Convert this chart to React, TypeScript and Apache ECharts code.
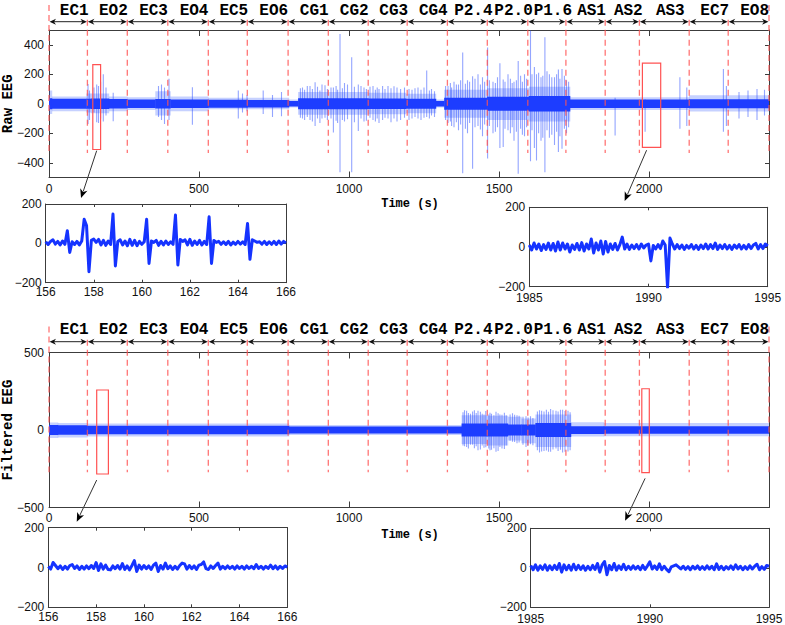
import React, { useEffect, useRef } from 'react';
import * as echarts from 'echarts';

// ---------------- data ----------------
const segBounds = [0, 128, 261, 396, 531, 661, 797, 931, 1064, 1194, 1328, 1461, 1596, 1723, 1854, 1968, 2134, 2264, 2400];
const segLabels = ['EC1', 'EO2', 'EC3', 'EO4', 'EC5', 'EO6', 'CG1', 'CG2', 'CG3', 'CG4', 'P2.4', 'P2.0', 'P1.6', 'AS1', 'AS2', 'AS3', 'EC7', 'EO8'];

const timeTicks = [0, 500, 1000, 1500, 2000];
const rawTicks = [-400, -200, 0, 200, 400];
const filtTicks = [-500, 0, 500];
const insetEarlyTicks = [156, 158, 160, 162, 164, 166];
const insetLateTicks = [1985, 1990, 1995];
const insetYTicks = [-200, 0, 200];

// envelope pieces: [start s, end s, dense core half-width, outer top, outer bottom]
const rawEnvelope = [
  [0, 10, 38, 90, -70],
  [10, 125, 34, 50, -50],
  [125, 140, 34, 70, -60],
  [140, 200, 36, 70, -65],
  [200, 261, 32, 50, -50],
  [261, 355, 29, 44, -42],
  [355, 405, 32, 85, -80],
  [405, 531, 29, 50, -50],
  [531, 661, 27, 40, -38],
  [661, 800, 25, 40, -38],
  [800, 831, 19, 28, -26],
  [831, 1064, 38, 80, -75],
  [1064, 1190, 36, 75, -72],
  [1190, 1290, 34, 68, -65],
  [1290, 1318, 19, 28, -26],
  [1318, 1461, 40, 95, -95],
  [1461, 1600, 48, 105, -110],
  [1600, 1737, 52, 115, -120],
  [1737, 2134, 29, 44, -42],
  [2134, 2400, 31, 58, -52],
];

// isolated excursions: [time s, top, bottom]
const rawSpikes = [
  [130, 134, -137], [135, 90, -110], [150, 110, -60], [159, 130, -125], [165, 120, -130],
  [172, 150, -100], [181, 200, -120], [190, 110, -80], [214, 75, -118],
  [365, 120, -90], [375, 130, -110], [385, 110, -137], [400, 170, -110],
  [478, 112, -142], [631, 90, -100], [645, 70, -60], [660, 60, -50],
  [714, 90, -70], [745, 60, -90], [775, 80, -85],
  [845, 110, -100], [870, 120, -110], [887, 146, -150], [910, 130, -100], [948, 110, -195],
  [970, 473, -464], [985, 140, -120], [1009, 315, -464], [1031, 130, -185], [1050, 110, -120],
  [1080, 120, -110], [1100, 100, -130], [1130, 120, -100], [1160, 110, -120], [1200, 100, -110],
  [1230, 110, -100], [1259, 225, -90], [1275, 100, -80],
  [1330, 120, -130], [1350, 150, -160], [1365, 130, -180], [1379, 347, -471], [1395, 160, -200],
  [1412, 187, -441], [1430, 200, -150], [1445, 180, -220], [1462, 382, -372], [1480, 150, -200],
  [1503, 275, -300], [1514, 165, -293], [1530, 200, -180], [1550, 150, -250], [1564, 290, -475],
  [1585, 200, -220], [1605, 496, -390], [1618, 250, -300], [1625, 200, -385], [1640, 180, -250],
  [1653, 451, -464], [1668, 200, -230], [1685, 180, -280], [1698, 233, -327], [1710, 236, -305],
  [1725, 160, -200],
  [1887, 40, -216], [1987, 30, -190], [2103, 180, -170], [2126, 110, -150],
  [2248, 236, -190], [2258, 120, -150], [2300, 80, -100], [2330, 90, -90], [2360, 100, -110], [2385, 95, -80],
];

// dense smaller excursions of the gaming / puzzle blocks: [time s, top, bottom]
const rawHairs = [
  [838, 105, -95], [852, 95, -110], [861, 120, -90], [878, 100, -120], [895, 115, -100], [903, 90, -130],
  [920, 125, -95], [928, 100, -110], [940, 110, -100], [957, 120, -115], [962, 95, -130], [978, 105, -110],
  [995, 130, -105], [1018, 115, -125], [1040, 120, -100], [1058, 100, -115], [1070, 115, -95], [1088, 95, -120],
  [1094, 110, -100], [1112, 120, -110], [1120, 100, -95], [1140, 105, -125], [1150, 118, -100], [1172, 100, -110],
  [1185, 110, -95], [1210, 95, -100], [1220, 105, -90], [1240, 95, -110], [1250, 110, -95], [1268, 90, -100],
  [1285, 85, -90],
  [1322, 120, -110], [1338, 140, -120], [1342, 110, -150], [1358, 130, -125], [1372, 160, -140], [1388, 135, -170],
  [1402, 150, -130], [1420, 170, -160], [1438, 130, -175], [1452, 150, -140], [1468, 160, -150], [1488, 140, -190],
  [1495, 180, -160], [1520, 150, -170], [1538, 170, -200], [1544, 140, -160], [1558, 160, -190], [1572, 190, -170],
  [1578, 150, -210], [1592, 170, -160], [1610, 200, -180], [1632, 210, -200], [1646, 190, -230], [1660, 220, -180],
  [1676, 180, -210], [1692, 200, -190], [1703, 170, -220], [1718, 190, -170], [1732, 150, -160],
];

const filtEnvelope = [
  [0, 30, 33, 48, -52],
  [30, 128, 31, 45, -48],
  [128, 800, 28, 42, -42],
  [800, 1376, 22, 33, -33],
  [1376, 1460, 42, 95, -90],
  [1460, 1530, 42, 92, -100],
  [1530, 1575, 36, 85, -68],
  [1575, 1622, 36, 75, -85],
  [1622, 1740, 45, 100, -110],
  [1740, 1850, 25, 50, -42],
  [1850, 2400, 24, 45, -40],
];

const filtSpikes = [
  [1380, 115, -100], [1385, 128, -105], [1392, 125, -110], [1398, 110, -120], [1405, 105, -95], [1412, 120, -95],
  [1418, 128, -118], [1424, 110, -105], [1430, 125, -130], [1438, 118, -125], [1444, 105, -100], [1450, 100, -115],
  [1456, 122, -112], [1466, 100, -120], [1470, 112, -130], [1475, 105, -128], [1483, 95, -118], [1490, 118, -140],
  [1497, 108, -135], [1503, 100, -110], [1510, 98, -120], [1518, 112, -122], [1524, 95, -100], [1537, 100, -70],
  [1545, 108, -75], [1552, 98, -78], [1560, 95, -85], [1567, 92, -80], [1580, 85, -95], [1590, 88, -110],
  [1597, 80, -100], [1605, 88, -92], [1613, 78, -98], [1628, 120, -130], [1635, 128, -145], [1642, 125, -138],
  [1650, 120, -135], [1658, 130, -132], [1665, 118, -140], [1672, 135, -140], [1680, 128, -125], [1690, 125, -120],
  [1697, 120, -135], [1705, 130, -128], [1712, 130, -145], [1720, 122, -140], [1730, 125, -138], [1737, 115, -130],
];

// highlighted windows: [t0, t1, top, bottom]
const rawBoxes = [[146, 172, 265, -310], [1978, 2039, 276, -296]];
const filtBoxes = [[159, 198, 258, -284], [1976, 2001, 266, -275]];

// 10-second excerpts, one sample per 0.1 s
const insetStep = 0.1;
const insetEarlyStart = 156;
const insetLateStart = 1985;
const rawEarly = [
  8, -6, 10, 18, -4, 10, -8, 12, -5, 64,
  -46, 8, -6, 10, -8, 12, 122, 90, -144, 15,
  22, 5, 20, -8, 15, -10, 12, -6, 149, -115,
  10, 18, -8, 12, -12, 20, -10, 15, -12, 10,
  -5, 8, 122, -102, 12, 5, 15, -10, 10, -8,
  12, -6, 8, -5, 144, -110, 20, 10, 18, -8,
  20, -10, 12, -6, 15, -8, 10, -6, 135, -102,
  15, 5, 10, -5, 8, -6, 10, -8, 6, -5,
  10, -4, 8, -6, 101, -81, 18, 12, 5, 8,
  -4, 10, -6, 8, -5, 10, -6, 12, -4, 10,
  2,
];
const rawLate = [
  10, -15, 20, -10, 15, -18, 12, -12, 20, -15,
  18, -20, 25, -15, 20, -10, 15, -25, 10, -12,
  18, -15, 22, -20, 15, -10, 40, -30, 20, -15,
  30, -35, 28, -25, 15, -12, 18, -15, 12, 50,
  -10, 15, -12, 10, -8, 12, -10, 15, -5, 10,
  15, -70, 8, -10, 12, -8, 30, 10, -205, 45,
  15, -10, 12, -8, 10, -12, 8, -6, 12, -10,
  8, -12, 10, -8, 15, -10, 12, -8, 20, -12,
  10, -8, 12, -10, 8, -12, 10, -6, 12, -10,
  8, -10, 12, -8, 10, 18, -10, 12, -8, 15,
  5,
];
const filtEarly = [
  5, -8, 25, 10, -6, 8, -10, 6, -8, 10,
  15, -5, 8, -10, 6, -8, 8, -6, 10, -5,
  25, -15, 18, -8, 12, -10, -12, 8, -6, 10,
  -8, 20, -10, 8, -12, 10, 35, -20, 12, -8,
  10, -6, 8, -10, 12, 22, -20, 10, -8, 22,
  -6, 8, -10, 6, -8, 10, 22, 18, -8, 10,
  -6, 8, -10, 12, 15, 28, -6, -10, 8, -5,
  10, 22, -8, 6, -6, 8, -5, 6, -8, 8,
  -5, 6, -8, 8, -5, 6, -6, 15, -5, 6,
  -8, 6, -5, 12, -6, 8, -8, 6, -5, 8,
  2,
];
const filtLate = [
  12, -10, 15, -12, 10, -8, 15, -12, 10, -10,
  12, -8, 22, -22, 15, -10, 12, -12, 18, -10,
  12, -8, 10, -12, 8, -10, 12, -8, 22, -22,
  15, 32, -35, 12, -10, 22, -12, 10, -8, 18,
  -10, 8, -8, 10, -6, 8, -10, 12, -8, 10,
  30, -6, 10, -8, 20, -10, 8, -8, -20, 5,
  10, 15, 5, -6, 8, -8, 6, -10, 8, -6,
  10, -8, 6, -8, 10, -6, 8, -10, 20, -8,
  8, -10, 6, -6, 10, -8, 15, -6, 8, -10,
  6, -8, 10, -6, 8, 18, -10, 6, -8, 12,
  8,
];

// callout arrows: from a point of a main panel to a point of an inset (data units of each)
const connectors = [
  { fromGrid: 0, from: [159, -318], toGrid: 1, to: [157.47, 230] },
  { fromGrid: 0, from: [1992, -315], toGrid: 2, to: [1989.0, 232] },
  { fromGrid: 3, from: [159, -323], toGrid: 4, to: [157.19, 230] },
  { fromGrid: 3, from: [1987, -312], toGrid: 5, to: [1988.96, 238] },
];

// ---------------- style / layout ----------------
const GRIDS = [
  { left: 49, top: 30, width: 720, height: 147.5 },
  { left: 45.7, top: 204, width: 240.3, height: 78.7 },
  { left: 529.3, top: 207.3, width: 238.4, height: 79.4 },
  { left: 49, top: 352.5, width: 720, height: 155 },
  { left: 48.3, top: 527.7, width: 239, height: 79.6 },
  { left: 530.7, top: 528.3, width: 238.3, height: 79 },
];
const AXIS_COLOR = '#3c3c3c';
const SANS = '"Liberation Sans", Arial, Helvetica, sans-serif';
const MONO = '"Liberation Mono", "DejaVu Sans Mono", "Courier New", monospace';
const CORE = '#1d3dff';
const OUTER = 'rgba(50, 90, 255, 0.28)';
const SPIKE = 'rgba(40, 75, 255, 0.5)';
const LINE = '#1533ff';
const RED = '#ff5252';

const fmt = (v: number) => (v < 0 ? '\u2212' + Math.abs(v) : String(v));

function axesFor(g: number, xr: number[], xt: number[], yr: number[], yt: number[], xTick: number, yTick: number, xMargin: number, yMargin: number) {
  const line = { show: true, onZero: false, lineStyle: { color: AXIS_COLOR, width: 1 } };
  const lab = { fontFamily: SANS, fontSize: 12, lineHeight: 11, color: '#111', formatter: fmt };
  const x = [
    {
      type: 'value', gridIndex: g, min: xr[0], max: xr[1], position: 'bottom', axisLine: line,
      axisTick: { show: true, inside: true, length: xTick, customValues: xt, lineStyle: { color: AXIS_COLOR } },
      axisLabel: { show: true, customValues: xt, margin: xMargin, ...lab }, splitLine: { show: false },
    },
    {
      type: 'value', gridIndex: g, min: xr[0], max: xr[1], position: 'top', axisLine: line,
      axisTick: { show: true, inside: true, length: xTick, customValues: xt, lineStyle: { color: AXIS_COLOR } },
      axisLabel: { show: false }, splitLine: { show: false },
    },
  ];
  const y = [
    {
      type: 'value', gridIndex: g, min: yr[0], max: yr[1], position: 'left', axisLine: line,
      axisTick: { show: true, inside: true, length: yTick, customValues: yt, lineStyle: { color: AXIS_COLOR } },
      axisLabel: { show: true, customValues: yt, margin: yMargin, ...lab }, splitLine: { show: false },
    },
    {
      type: 'value', gridIndex: g, min: yr[0], max: yr[1], position: 'right', axisLine: line,
      axisTick: { show: true, inside: true, length: yTick, customValues: yt, lineStyle: { color: AXIS_COLOR } },
      axisLabel: { show: false }, splitLine: { show: false },
    },
  ];
  return { x, y };
}

function envelopeSeries(g: number, data: number[][], kind: 'outer' | 'core') {
  return {
    type: 'custom', xAxisIndex: 2 * g, yAxisIndex: 2 * g, clip: true, silent: true, z: kind === 'outer' ? 2 : 4,
    data, encode: { x: [0, 1], y: [3, 4] },
    renderItem: (_p: any, api: any) => {
      const t0 = api.value(0), t1 = api.value(1);
      const top = kind === 'outer' ? api.value(3) : api.value(2);
      const bot = kind === 'outer' ? api.value(4) : -api.value(2);
      const a = api.coord([t0, top]);
      const b = api.coord([t1, bot]);
      return {
        type: 'rect',
        shape: { x: a[0] - 0.2, y: a[1], width: b[0] - a[0] + 0.4, height: b[1] - a[1] },
        style: { fill: kind === 'outer' ? OUTER : CORE },
      };
    },
  };
}

function spikeSeries(g: number, data: number[][]) {
  return {
    type: 'custom', xAxisIndex: 2 * g, yAxisIndex: 2 * g, clip: true, silent: true, z: 3,
    data, encode: { x: 0, y: [1, 2] },
    renderItem: (_p: any, api: any) => {
      const a = api.coord([api.value(0), api.value(1)]);
      const b = api.coord([api.value(0), api.value(2)]);
      return { type: 'line', shape: { x1: a[0], y1: a[1], x2: b[0], y2: b[1] }, style: { stroke: SPIKE, lineWidth: 1.1 } };
    },
  };
}

function boxSeries(g: number, data: number[][]) {
  return {
    type: 'custom', xAxisIndex: 2 * g, yAxisIndex: 2 * g, clip: false, silent: true, z: 8,
    data, encode: { x: [0, 1], y: [2, 3] },
    renderItem: (_p: any, api: any) => {
      const a = api.coord([api.value(0), api.value(2)]);
      const b = api.coord([api.value(1), api.value(3)]);
      return {
        type: 'rect', shape: { x: a[0], y: a[1], width: b[0] - a[0], height: b[1] - a[1] },
        style: { fill: 'none', stroke: RED, lineWidth: 1.2 },
      };
    },
  };
}

function dashSeries(g: number, arrowGap: number, topExt: number, bottomFrac: number) {
  return {
    type: 'custom', xAxisIndex: 2 * g, yAxisIndex: 2 * g, clip: false, silent: true, z: 9,
    data: segBounds.map((t) => [t, 0]),
    renderItem: (params: any, api: any) => {
      const cs = params.coordSys;
      const x = api.coord([api.value(0), 0])[0];
      const edge = params.dataIndex === 0 || params.dataIndex === segBounds.length - 1;
      const y1 = edge ? cs.y - topExt : cs.y - arrowGap - 2;
      const y2 = cs.y + cs.height * bottomFrac;
      return {
        type: 'line', shape: { x1: x, y1, x2: x, y2 },
        style: { stroke: RED, lineWidth: 1.3, lineDash: [6, 4], opacity: 0.8 },
      };
    },
  };
}

function headerSeries(g: number, arrowGap: number, labelGap: number) {
  return {
    type: 'custom', xAxisIndex: 2 * g, yAxisIndex: 2 * g, clip: false, silent: true, z: 9,
    data: segLabels.map((_l, i) => [segBounds[i], segBounds[i + 1], i]),
    encode: { x: [0, 1] },
    renderItem: (params: any, api: any) => {
      const cs = params.coordSys;
      const x0 = api.coord([api.value(0), 0])[0];
      const x1 = api.coord([api.value(1), 0])[0];
      const idx = api.value(2);
      const y = cs.y - arrowGap;
      const ah = 7, aw = 3;
      return {
        type: 'group',
        children: [
          { type: 'line', shape: { x1: x0 + 3, y1: y, x2: x1 - 3, y2: y }, style: { stroke: '#222', lineWidth: 1 } },
          { type: 'polygon', shape: { points: [[x0 + 0.5, y], [x0 + ah, y - aw], [x0 + ah - 2, y], [x0 + ah, y + aw]] }, style: { fill: '#111' } },
          { type: 'polygon', shape: { points: [[x1 - 0.5, y], [x1 - ah, y - aw], [x1 - ah + 2, y], [x1 - ah, y + aw]] }, style: { fill: '#111' } },
          {
            type: 'text',
            style: {
              text: segLabels[idx], x: (x0 + x1) / 2 + 6, y: y - labelGap,
              font: `bold 16px ${MONO}`, fill: '#000', align: 'center', verticalAlign: 'middle',
            },
          },
        ],
      };
    },
  };
}

function insetLine(g: number, start: number, vals: number[]) {
  return {
    type: 'line', xAxisIndex: 2 * g, yAxisIndex: 2 * g, showSymbol: false, silent: true, clip: true, z: 3,
    lineStyle: { color: LINE, width: 3, join: 'round' },
    data: vals.map((v, i) => [+(start + i * insetStep).toFixed(2), v]),
  };
}

function buildOption() {
  const a0 = axesFor(0, [0, 2400], timeTicks, [-500, 500], rawTicks, 6, 4, 6, 5);
  const a1 = axesFor(1, [156, 166], insetEarlyTicks, [-200, 200], insetYTicks, 3, 3, 4, 4);
  const a2 = axesFor(2, [1985, 1995], insetLateTicks, [-200, 200], insetYTicks, 3, 3, 6, 4);
  const a3 = axesFor(3, [0, 2400], timeTicks, [-500, 500], filtTicks, 6, 4, 5, 5);
  const a4 = axesFor(4, [156, 166], insetEarlyTicks, [-200, 200], insetYTicks, 3, 3, 4, 4);
  const a5 = axesFor(5, [1985, 1995], insetLateTicks, [-200, 200], insetYTicks, 3, 3, 6, 4);
  const all = [a0, a1, a2, a3, a4, a5];
  return {
    animation: false,
    backgroundColor: '#ffffff',
    grid: GRIDS.map((g) => ({ ...g, show: false, containLabel: false, outerBoundsMode: 'none' })),
    xAxis: all.flatMap((a) => a.x),
    yAxis: all.flatMap((a) => a.y),
    series: [
      envelopeSeries(0, rawEnvelope, 'outer'),
      spikeSeries(0, rawHairs),
      spikeSeries(0, rawSpikes),
      envelopeSeries(0, rawEnvelope, 'core'),
      boxSeries(0, rawBoxes),
      dashSeries(0, 8.3, 25, 0.834),
      headerSeries(0, 8.3, 10.7),
      insetLine(1, insetEarlyStart, rawEarly),
      insetLine(2, insetLateStart, rawLate),
      envelopeSeries(3, filtEnvelope, 'outer'),
      spikeSeries(3, filtSpikes),
      envelopeSeries(3, filtEnvelope, 'core'),
      boxSeries(3, filtBoxes),
      dashSeries(3, 10.8, 26, 0.772),
      headerSeries(3, 10.8, 11.7),
      insetLine(4, insetEarlyStart, filtEarly),
      insetLine(5, insetLateStart, filtLate),
    ],
  };
}

function buildGraphic(chart: any) {
  const els: any[] = [];
  const mainTop = GRIDS[0];
  const mainBot = GRIDS[3];
  const cx = mainTop.left + mainTop.width / 2 + 1;
  els.push({ type: 'text', x: cx, y: mainTop.top + mainTop.height + 26.5, style: { text: 'Time (s)', font: `bold 12px ${MONO}`, fill: '#000', align: 'center', verticalAlign: 'middle' } });
  els.push({ type: 'text', x: cx, y: mainBot.top + mainBot.height + 27.5, style: { text: 'Time (s)', font: `bold 12px ${MONO}`, fill: '#000', align: 'center', verticalAlign: 'middle' } });
  els.push({ type: 'text', x: 8, y: mainTop.top + mainTop.height / 2, rotation: Math.PI / 2, style: { text: 'Raw EEG', font: `bold 14px ${MONO}`, fill: '#000', align: 'center', verticalAlign: 'middle' } });
  els.push({ type: 'text', x: 8, y: mainBot.top + mainBot.height / 2, rotation: Math.PI / 2, style: { text: 'Filtered EEG', font: `bold 14px ${MONO}`, fill: '#000', align: 'center', verticalAlign: 'middle' } });

  connectors.forEach((c) => {
    const p = chart.convertToPixel({ gridIndex: c.fromGrid }, c.from);
    const q = chart.convertToPixel({ gridIndex: c.toGrid }, c.to);
    if (!p || !q) return;
    const dx = q[0] - p[0], dy = q[1] - p[1];
    const len = Math.sqrt(dx * dx + dy * dy) || 1;
    const ux = dx / len, uy = dy / len;
    const hl = 9, hw = 3.8;
    const bx = q[0] - ux * hl, by = q[1] - uy * hl;
    els.push({ type: 'line', shape: { x1: p[0], y1: p[1], x2: bx + ux * 2, y2: by + uy * 2 }, style: { stroke: '#333', lineWidth: 1 } });
    els.push({
      type: 'polygon',
      shape: { points: [[q[0], q[1]], [bx - uy * hw, by + ux * hw], [bx + ux * 2.5, by + uy * 2.5], [bx + uy * hw, by - ux * hw]] },
      style: { fill: '#000' },
    });
  });
  return els;
}

export default function App() {
  const ref = useRef<HTMLDivElement>(null);
  useEffect(() => {
    if (!ref.current) return;
    const chart = echarts.init(ref.current, null, { renderer: 'svg' });
    chart.setOption(buildOption() as any);
    chart.setOption({ graphic: buildGraphic(chart) } as any);
    return () => chart.dispose();
  }, []);
  return (
    <div
      ref={ref}
      style={{ position: 'fixed', left: 0, top: 0, width: 785, height: 625, background: '#fff' }}
    />
  );
}
